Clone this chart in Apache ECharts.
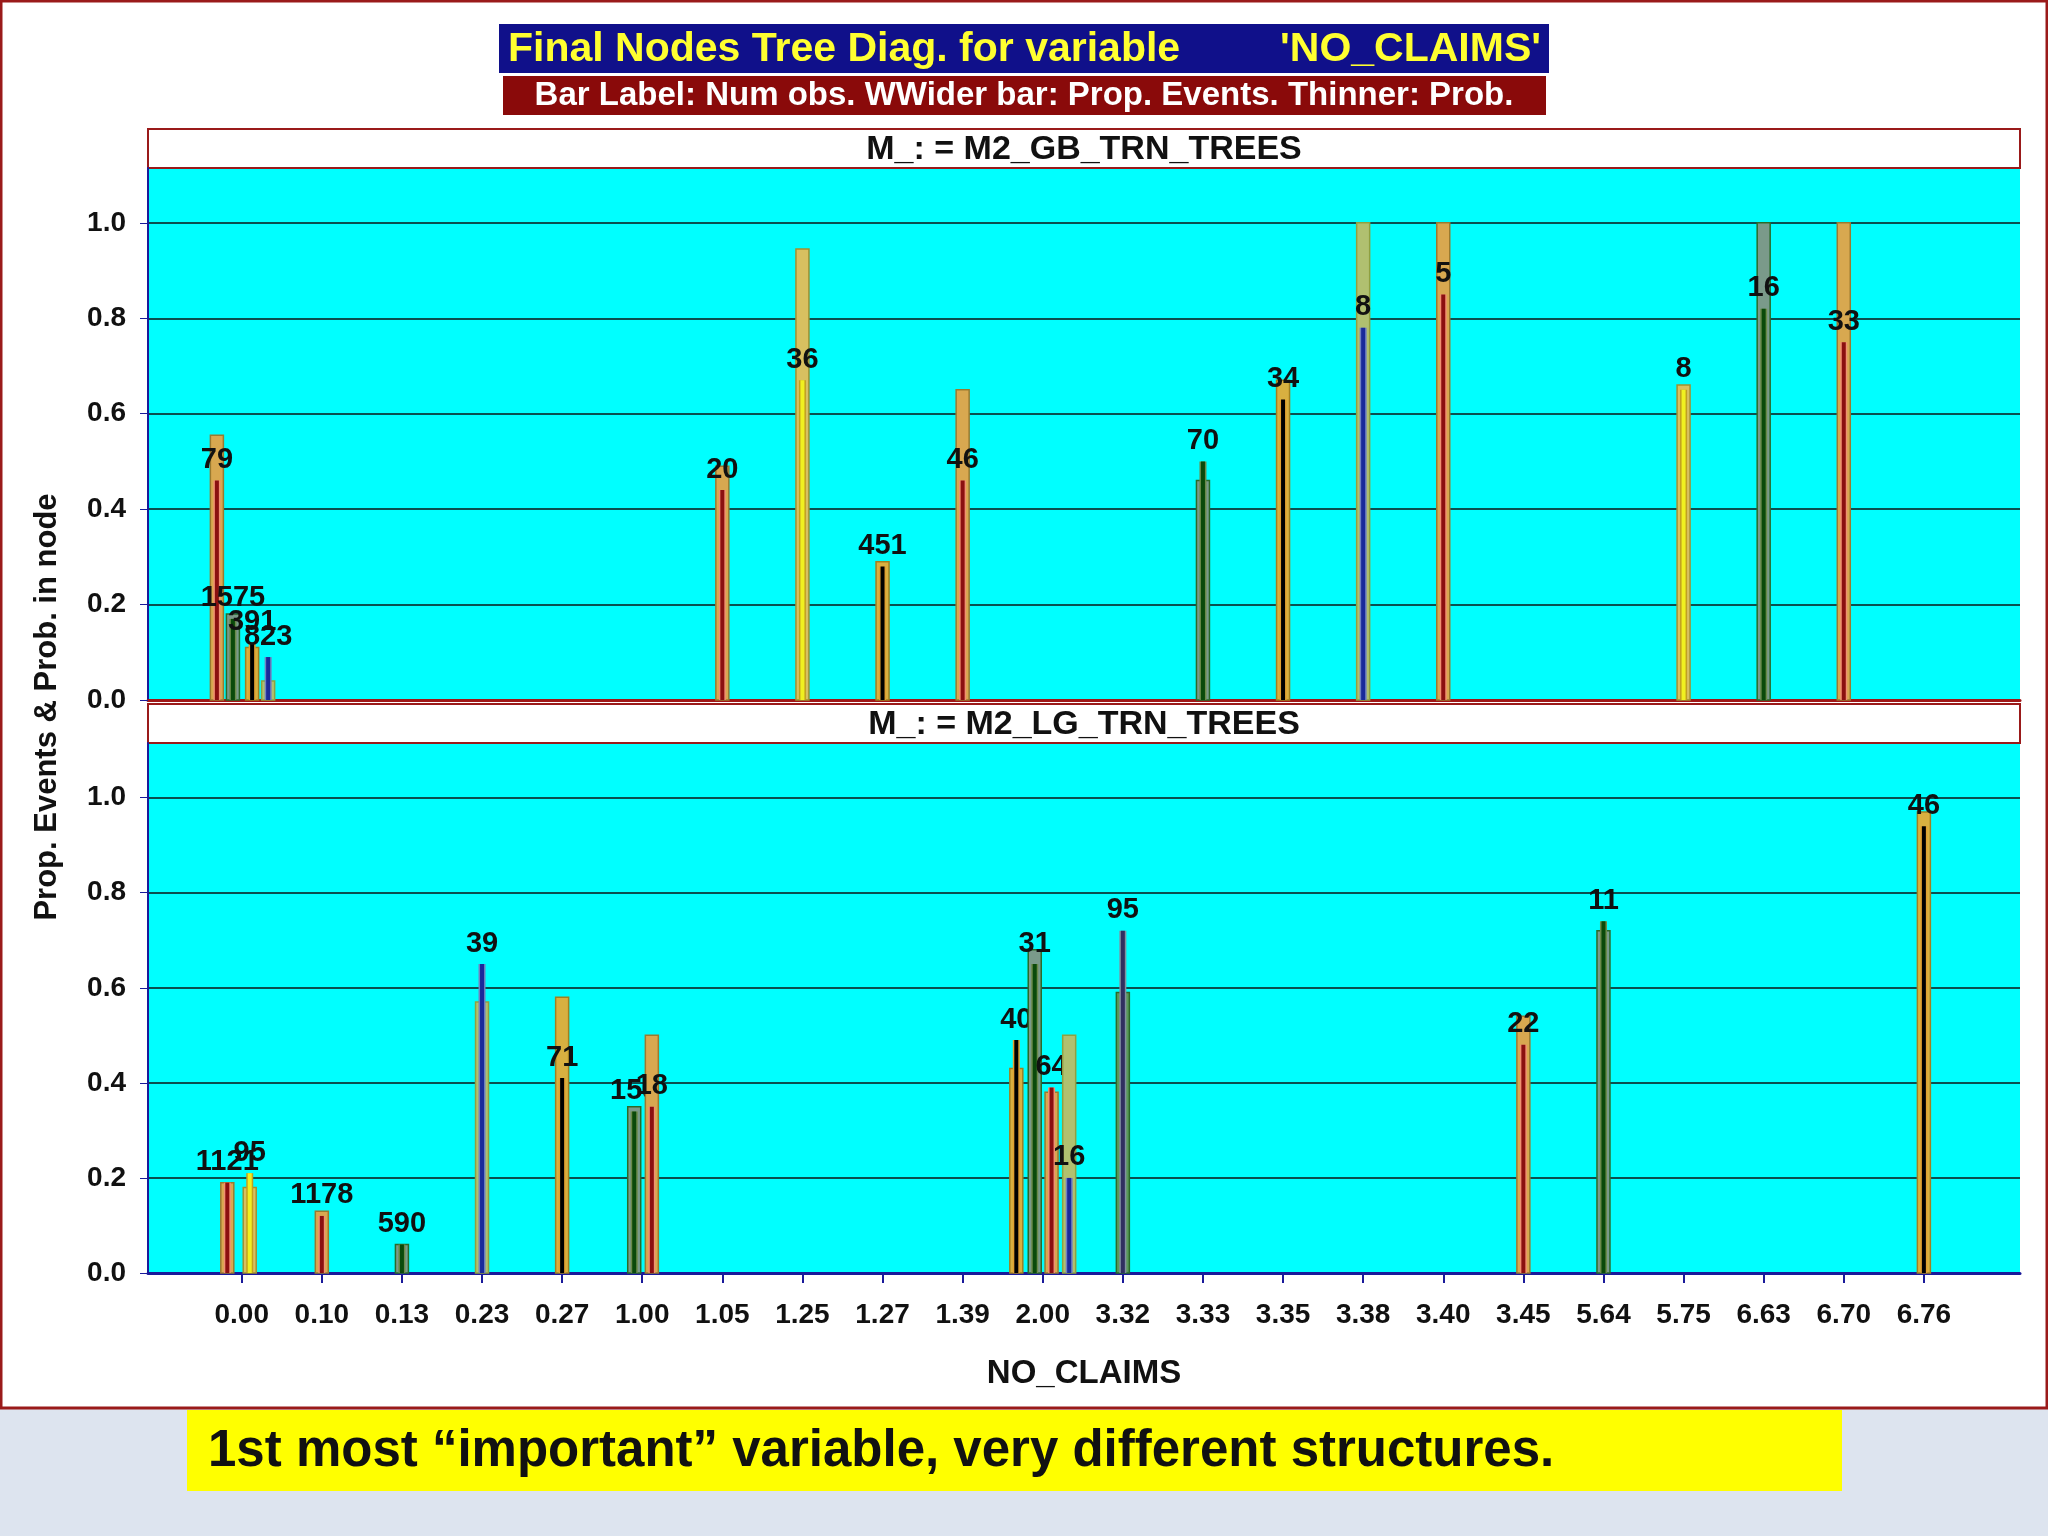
<!DOCTYPE html>
<html><head><meta charset="utf-8">
<script src="https://cdn.jsdelivr.net/npm/echarts@6/dist/echarts.min.js"></script>
<style>html,body{margin:0;padding:0;background:#dde4ef}#c{width:2048px;height:1536px}</style>
</head><body><div id="c"></div>
<script>
const categories = ['0.00','0.10','0.13','0.23','0.27','1.00','1.05','1.25','1.27','1.39','2.00','3.32','3.33','3.35','3.38','3.40','3.45','5.64','5.75','6.63','6.70','6.76'];
const yTicks = [0, 0.2, 0.4, 0.6, 0.8, 1.0];

// Panel 1: M2_GB_TRN_TREES
const gbCat    = [0, 0, 0, 0, 6, 7, 8, 9, 12, 13, 14, 15, 18, 19, 20];
const gbSlot   = [-0.31, -0.11, 0.13, 0.33, 0, 0, 0, 0, 0, 0, 0, 0, 0, 0, 0];
const gbWide   = [0.555, 0.18, 0.11, 0.04, 0.49, 0.945, 0.29, 0.65, 0.46, 0.67, 1.0, 1.0, 0.66, 1.0, 1.0];
const gbThin   = [0.46, 0.17, 0.12, 0.09, 0.44, 0.67, 0.28, 0.46, 0.50, 0.63, 0.78, 0.85, 0.65, 0.82, 0.75];
const gbLabel  = ['79', '1575', '391', '823', '20', '36', '451', '46', '70', '34', '8', '5', '8', '16', '33'];
const gbStyle  = ['red', 'green', 'black', 'blue', 'red', 'yellow', 'black', 'red', 'green', 'black', 'blue', 'red', 'yellow', 'green', 'red'];

// Panel 2: M2_LG_TRN_TREES
const lgCat    = [0, 0, 1, 2, 3, 4, 5, 5, 10, 10, 10, 10, 11, 16, 17, 21];
const lgSlot   = [-0.18, 0.1, 0, 0, 0, 0, -0.1, 0.12, -0.33, -0.1, 0.11, 0.33, 0, 0, 0, 0];
const lgWide   = [0.19, 0.18, 0.13, 0.06, 0.57, 0.58, 0.35, 0.50, 0.43, 0.68, 0.38, 0.50, 0.59, 0.54, 0.72, 0.97];
const lgThin   = [0.19, 0.21, 0.12, 0.06, 0.65, 0.41, 0.34, 0.35, 0.49, 0.65, 0.39, 0.20, 0.72, 0.48, 0.74, 0.94];
const lgLabel  = ['1121', '95', '1178', '590', '39', '71', '158', '18', '40', '31', '64', '16', '95', '22', '11', '46'];
const lgStyle  = ['red', 'yellow', 'red', 'green', 'blue', 'black', 'green', 'red', 'black', 'green', 'red', 'blue', 'blue2', 'red', 'green', 'black'];

const STY = {
  red:    {wide:'#d8a850', wb:'#9a7a30', thin:'#8b1010', halo:'#f09070'},
  green:  {wide:'#7a9a8a', wb:'#2a6a2a', thin:'#0a4a0a', halo:'#6a8a4a'},
  black:  {wide:'#d8b040', wb:'#a08020', thin:'#000000', halo:'#e0a030'},
  blue:   {wide:'#b0c070', wb:'#90a040', thin:'#1a2a9a', halo:'#7080c0'},
  blue2:  {wide:'#5a9a5a', wb:'#2a6a2a', thin:'#303060', halo:'#8090a0'},
  yellow: {wide:'#d8c060', wb:'#a09030', thin:'#f0f020', halo:'#c0a020'}
};

function build(cat, slot, wide, thin, lab, sty) {
  return cat.map((c, i) => ({value: [c + slot[i], wide[i], thin[i]], label: lab[i], sty: sty[i]}));
}

function renderItem(params, api) {
  const x = api.value(0), w = api.value(1), t = api.value(2);
  const p0 = api.coord([x, 0]), pw = api.coord([x, w]), pt = api.coord([x, t]);
  const d = (params.seriesIndex === 0 ? gbData : lgData)[params.dataIndex];
  const s = STY[d.sty];
  return {type:'group', children:[
    {type:'rect', shape:{x:p0[0]-6.5, y:pw[1], width:13, height:p0[1]-pw[1]}, style:{fill:s.wide, stroke:s.wb, lineWidth:1.5}},
    {type:'rect', shape:{x:p0[0]-3.5, y:pt[1], width:7, height:p0[1]-pt[1]}, style:{fill:s.halo}},
    {type:'rect', shape:{x:p0[0]-2, y:pt[1], width:4, height:p0[1]-pt[1]}, style:{fill:s.thin}},
    {type:'text', x:p0[0], y:pt[1]-6, style:{text:d.label, fill:'#111', font:'bold 29px "Liberation Sans", Arial', align:'center', verticalAlign:'bottom'}}
  ]};
}

const gbData = build(gbCat, gbSlot, gbWide, gbThin, gbLabel, gbStyle);
const lgData = build(lgCat, lgSlot, lgWide, lgThin, lgLabel, lgStyle);

const FONT = '"Liberation Sans", Arial, sans-serif';
const idx = categories.map((_, i) => i);
function xAxis(gi, showLabels) {
  return {type:'value', gridIndex:gi, min:-1.17, max:22.2,
    axisLine:{show:true, onZero:false, lineStyle:{color: gi===0 ? '#a01818' : '#1a1a9a', width:3}},
    axisTick:{show:showLabels, customValues:idx, length:10, lineStyle:{color:'#1a1a9a', width:2}},
    axisLabel:{show:showLabels, customValues:idx, formatter:v => categories[Math.round(v)], color:'#111', fontFamily:FONT, fontWeight:'bold', fontSize:28, margin:28},
    splitLine:{show:false},
    name: showLabels ? 'NO_CLAIMS' : '', nameLocation:'middle', nameGap:84,
    nameTextStyle:{color:'#111', fontFamily:FONT, fontWeight:'bold', fontSize:33}};
}
function yAxis(gi) {
  return {type:'value', gridIndex:gi, min:0, max:1.115,
    axisLine:{show:true, onZero:false, lineStyle:{color:'#1a1a9a', width:2}},
    axisTick:{show:true, customValues:yTicks, length:8, lineStyle:{color:'#1a1a9a'}},
    axisLabel:{color:'#111', fontFamily:FONT, fontWeight:'bold', fontSize:28, margin:22, formatter:v => v.toFixed(1), customValues:yTicks},
    splitLine:{show:true, customValues:yTicks, lineStyle:{color:'#0a5050', width:2}}};
}

const chart = echarts.init(document.getElementById('c'));
chart.setOption({
  backgroundColor:'#dde4ef',
  animation:false,
  grid:[
    {left:148, right:28, top:168, height:532, show:true, backgroundColor:'#00ffff', borderWidth:0},
    {left:148, right:28, top:743, height:530, show:true, backgroundColor:'#00ffff', borderWidth:0}
  ],
  xAxis:[xAxis(0,false), xAxis(1,true)],
  yAxis:[yAxis(0), yAxis(1)],
  series:[
    {type:'custom', xAxisIndex:0, yAxisIndex:0, data:gbData.map(d=>d.value), renderItem, clip:false, z:5},
    {type:'custom', xAxisIndex:1, yAxisIndex:1, data:lgData.map(d=>d.value), renderItem, clip:false, z:5}
  ],
  graphic:[
    {type:'rect', z:-10, shape:{x:1, y:1, width:2046, height:1407}, style:{fill:'#ffffff', stroke:'#9a1a1a', lineWidth:3}},
    {type:'rect', shape:{x:499, y:24, width:1050, height:49}, style:{fill:'#10108a'}},
    {type:'text', x:508, y:50, style:{text:"Final Nodes Tree Diag. for variable", fill:'#ffff30', font:'bold 41px '+FONT, verticalAlign:'middle'}},
    {type:'text', x:1541, y:50, style:{text:"'NO_CLAIMS'", fill:'#ffff30', font:'bold 41px '+FONT, align:'right', verticalAlign:'middle'}},
    {type:'rect', shape:{x:503, y:76, width:1043, height:39}, style:{fill:'#8a0a0a'}},
    {type:'text', x:1024, y:96, style:{text:'Bar Label: Num obs. WWider bar: Prop. Events. Thinner: Prob.', fill:'#ffffff', font:'bold 33px '+FONT, align:'center', verticalAlign:'middle'}},
    {type:'rect', shape:{x:148, y:129, width:1872, height:39}, style:{fill:'#ffffff', stroke:'#9a1a1a', lineWidth:2}},
    {type:'text', x:1084, y:150, style:{text:'M_: = M2_GB_TRN_TREES', fill:'#111', font:'bold 34px '+FONT, align:'center', verticalAlign:'middle'}},
    {type:'rect', shape:{x:148, y:704, width:1872, height:39}, style:{fill:'#ffffff', stroke:'#9a1a1a', lineWidth:2}},
    {type:'text', x:1084, y:725, style:{text:'M_: = M2_LG_TRN_TREES', fill:'#111', font:'bold 34px '+FONT, align:'center', verticalAlign:'middle'}},
    {type:'text', x:47, y:707, rotation:Math.PI/2, style:{text:'Prop. Events & Prob. in node', fill:'#111', font:'bold 31px '+FONT, align:'center', verticalAlign:'middle'}},
    {type:'rect', shape:{x:187, y:1410, width:1655, height:81}, style:{fill:'#ffff00'}},
    {type:'text', x:208, y:1452, style:{text:'1st most \u201cimportant\u201d variable, very different structures.', fill:'#111', font:'bold 51px '+FONT, verticalAlign:'middle'}}
  ]
});
</script></body></html>
